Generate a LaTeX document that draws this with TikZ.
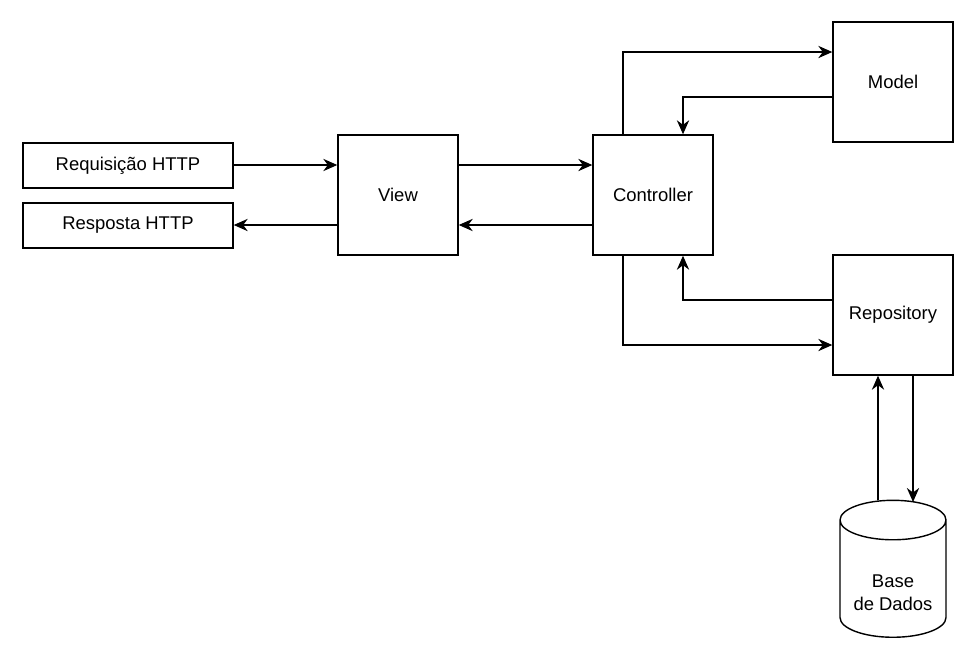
\documentclass[tikz,border=0pt]{standalone}
\usepackage{fontspec}
\setmainfont{Liberation Sans}
\usetikzlibrary{calc, shapes.geometric, arrows.meta}
\tikzset{
    box/.style={draw, thick, minimum width=#1, minimum height=2.4cm, inner sep=0pt, font=\fontsize{10.5}{13}\selectfont, align=center},
    box/.default=2.4cm,
    flow/.style={draw, thick, -{Stealth[length=8pt, width=7pt]}}
}
\begin{document}
\begin{tikzpicture}[x=0.02cm, y=-0.02cm]
\useasboundingbox (0,0) rectangle (977,660);

% Caixas
\node[box=4.2cm, minimum height=0.9cm] (req) at (128,165.5) {Requisição HTTP};
\node[box=4.2cm, minimum height=0.9cm] (resp) at (128,225.5) {Resposta HTTP};
\node[box] (view) at (398,195) {View};
\node[box] (ctrl) at (653,195) {Controller};
\node[box] (model) at (893,82) {Model};
\node[box] (repo) at (893,315) {Repository};
\node[draw, thick, cylinder, shape border rotate=90, aspect=0.5,
      minimum width=2.12cm, minimum height=2.74cm, inner sep=0pt,
      font=\fontsize{10.5}{13}\selectfont, align=center] (db) at (893,579) {\\[10pt]Base\\de Dados};

% Requisição e resposta
\draw[flow] (req.east |- 0,165) -- (view.west |- 0,165);
\draw[flow] (view.west |- 0,225) -- (resp.east |- 0,225);
\draw[flow] (view.east |- 0,165) -- (ctrl.west |- 0,165);
\draw[flow] (ctrl.west |- 0,225) -- (view.east |- 0,225);

% Controller e Model
\draw[flow] (ctrl.north -| 623,0) |- (model.west |- 0,52);
\draw[flow] (model.west |- 0,97) -| (ctrl.north -| 683,0);

% Controller e Repository
\draw[flow] (repo.west |- 0,300) -| (ctrl.south -| 683,0);
\draw[flow] (ctrl.south -| 623,0) |- (repo.west |- 0,345);

% Repository e Base de Dados
\draw[flow] (878,500) -- (repo.south -| 878,0);
\draw[flow] (repo.south -| 913,0) -- (913,502);

\end{tikzpicture}
\end{document}
